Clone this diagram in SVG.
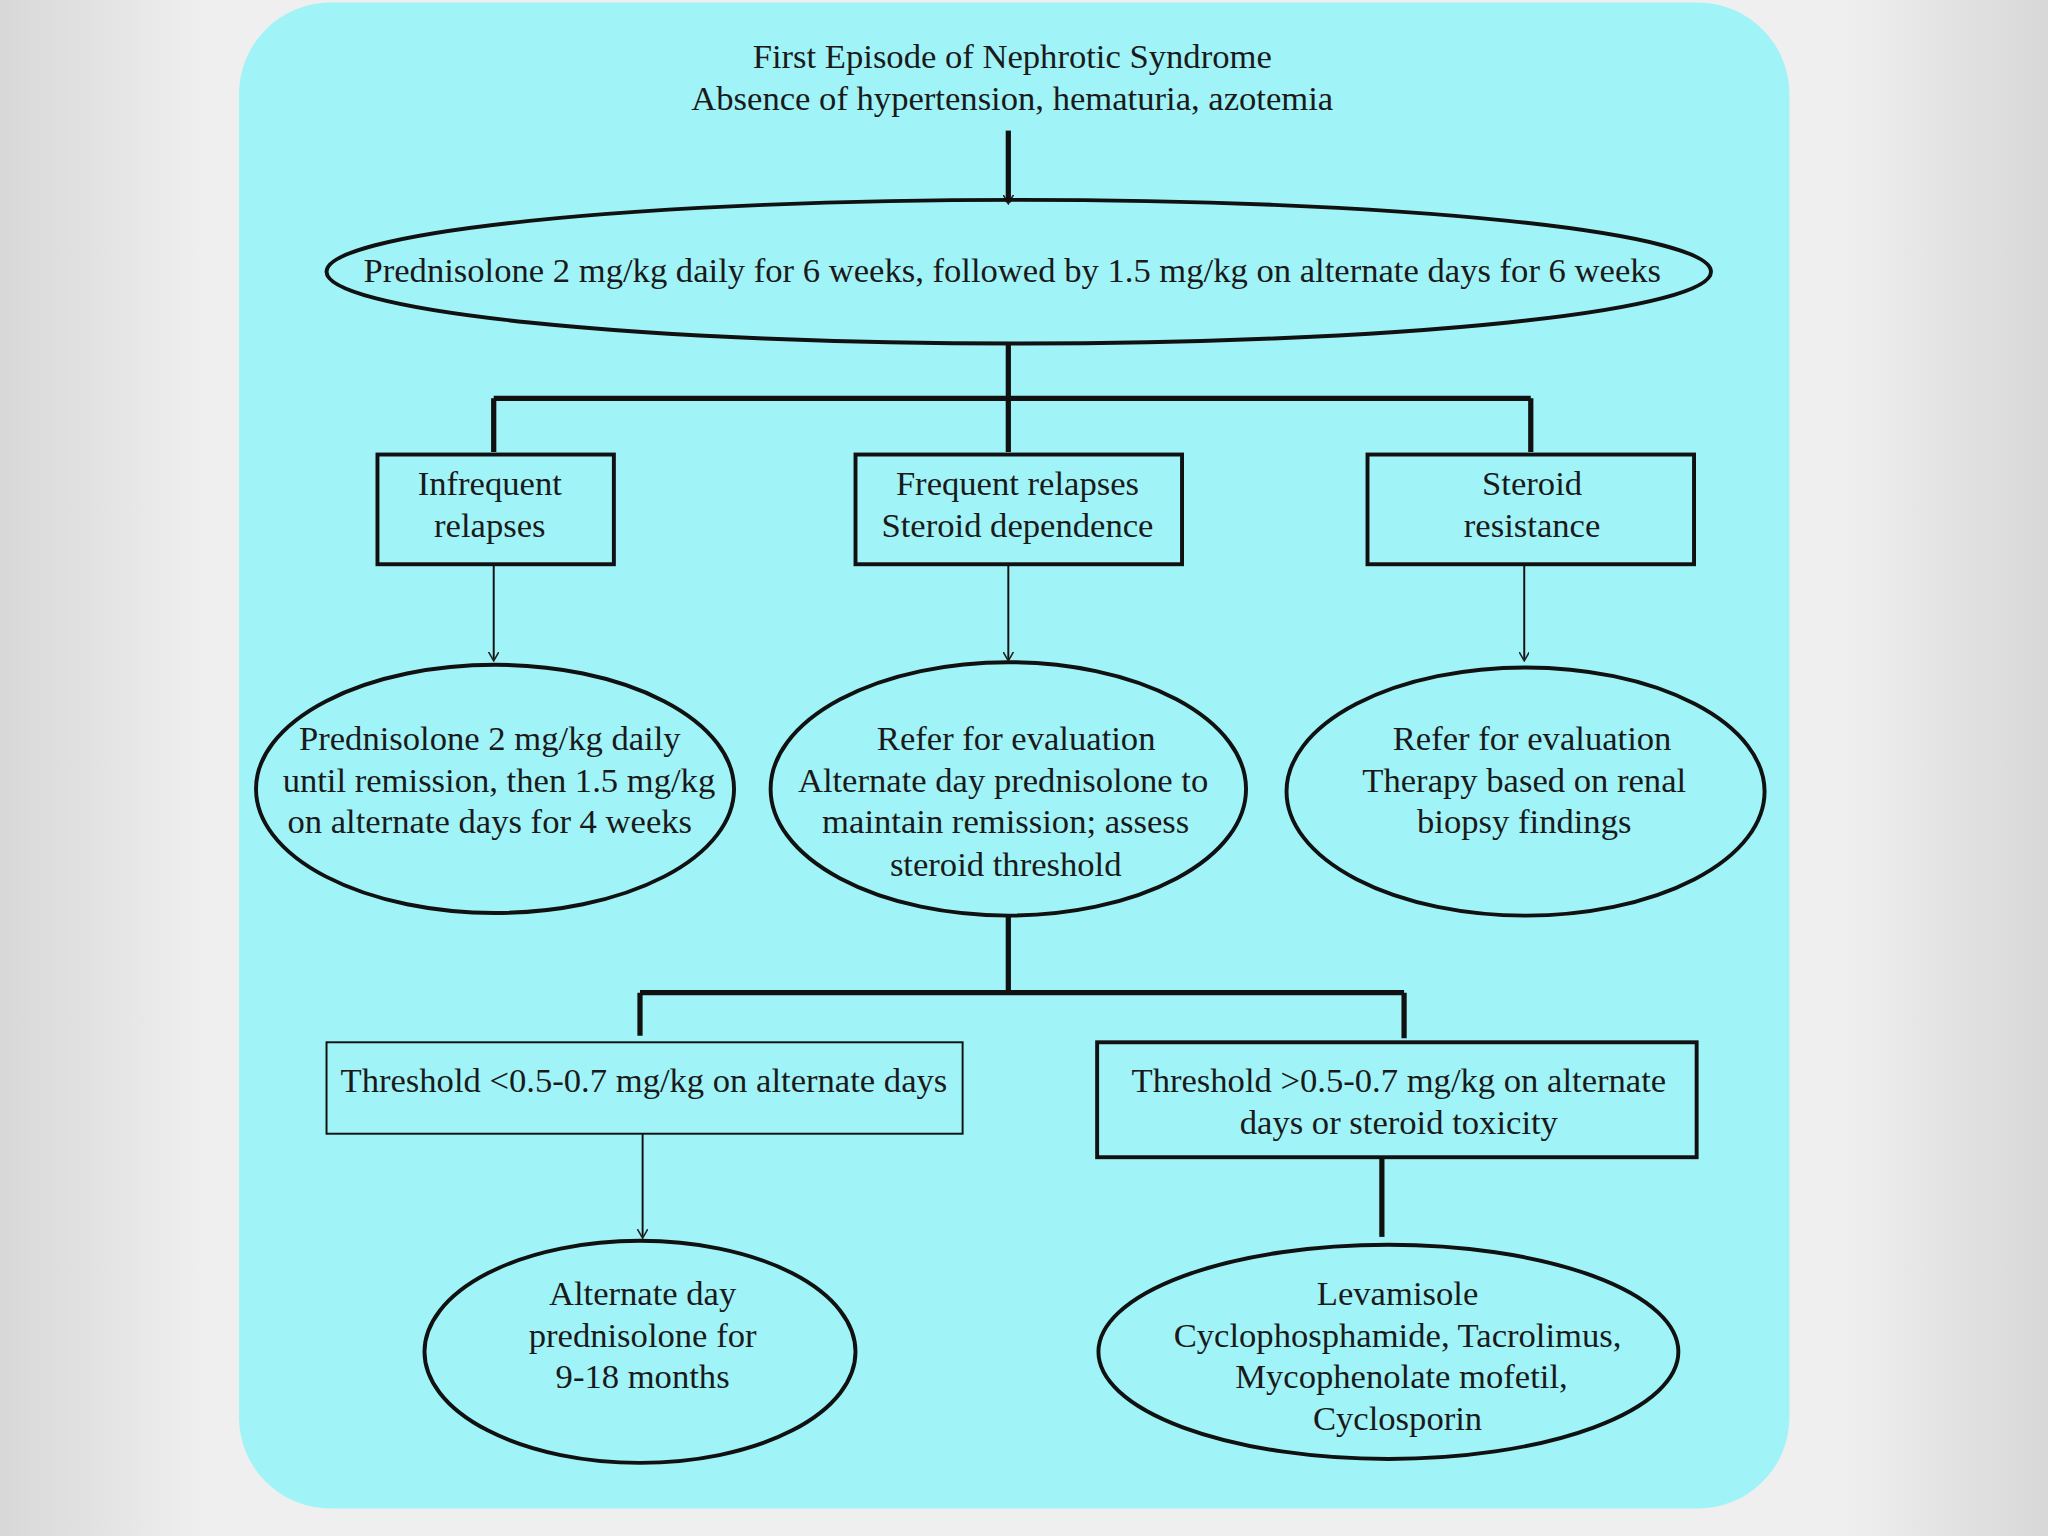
<svg xmlns="http://www.w3.org/2000/svg" width="2048" height="1536" viewBox="0 0 2048 1536">
<defs>
<linearGradient id="bg" x1="0" x2="1" y1="0" y2="0"><stop offset="0" stop-color="#d8d8d8"/><stop offset="0.1" stop-color="#efefef"/><stop offset="0.9" stop-color="#efefef"/><stop offset="1" stop-color="#d8d8d8"/></linearGradient>
<marker id="a" markerWidth="8" markerHeight="8" refX="6" refY="4" orient="auto" markerUnits="userSpaceOnUse"><path d="M0,0 L7,4 L0,8" fill="none" stroke="#222" stroke-width="1.2"/></marker>
</defs>
<style>
text{font-family:"Liberation Serif","Times New Roman",serif;font-size:26.5px;fill:#1a1a1a;text-anchor:middle}
.s{fill:none;stroke:#111;stroke-width:3}
.t{fill:none;stroke:#111;stroke-width:1.5}
.k{fill:none;stroke:#111;stroke-width:4}
</style>
<rect width="2048" height="1536" fill="url(#bg)"/>
<g transform="scale(1.30612)">
<rect x="183" y="2" width="1187" height="1153" rx="70" fill="#a0f4f8"/>
<g id="connectors">
<path class="k" d="M772,100V155" marker-end="url(#a)"/>
<path class="k" d="M772,263V305M378,305H1172M378,305V346M772,305V346M1172,305V346" />
<path class="t" d="M378,432V505" marker-end="url(#a)"/>
<path class="t" d="M772,432V505" marker-end="url(#a)"/>
<path class="t" d="M1167,432V505" marker-end="url(#a)"/>
<path class="k" d="M772,700V760M490,760H1075M490,760V793M1075,760V795"/>
<path class="t" d="M492,868V947" marker-end="url(#a)"/>
<path class="k" d="M1058,886V947"/>
</g>
<g id="n0"><text x="775" y="52">First Episode of Nephrotic Syndrome</text><text x="775" y="84">Absence of hypertension, hematuria, azotemia</text></g>
<g id="n1"><ellipse class="s" cx="780" cy="208" rx="530" ry="55"/><text x="775" y="216">Prednisolone 2 mg/kg daily for 6 weeks, followed by 1.5 mg/kg on alternate days for 6 weeks</text></g>
<g id="n2"><rect class="s" x="289" y="348" width="181" height="84"/><text x="375" y="379">Infrequent</text><text x="375" y="411">relapses</text></g>
<g id="n3"><rect class="s" x="655" y="348" width="250" height="84"/><text x="779" y="379">Frequent relapses</text><text x="779" y="411">Steroid dependence</text></g>
<g id="n4"><rect class="s" x="1047" y="348" width="250" height="84"/><text x="1173" y="379">Steroid</text><text x="1173" y="411">resistance</text></g>
<g id="n5"><ellipse class="s" cx="379" cy="604" rx="183" ry="95"/><text x="375" y="574">Prednisolone 2 mg/kg daily</text><text x="382" y="606">until remission, then 1.5 mg/kg</text><text x="375" y="638">on alternate days for 4 weeks</text></g>
<g id="n6"><ellipse class="s" cx="772" cy="604" rx="182" ry="97"/><text x="778" y="574">Refer for evaluation</text><text x="768" y="606">Alternate day prednisolone to</text><text x="770" y="638">maintain remission; assess</text><text x="770" y="671">steroid threshold</text></g>
<g id="n7"><ellipse class="s" cx="1168" cy="606" rx="183" ry="95"/><text x="1173" y="574">Refer for evaluation</text><text x="1167" y="606">Therapy based on renal</text><text x="1167" y="638">biopsy findings</text></g>
<g id="n8"><rect class="t" x="250" y="798" width="487" height="70"/><text x="493" y="836">Threshold &lt;0.5-0.7 mg/kg on alternate days</text></g>
<g id="n9"><rect class="s" x="840" y="798" width="459" height="88"/><text x="1071" y="836">Threshold &gt;0.5-0.7 mg/kg on alternate</text><text x="1071" y="868">days or steroid toxicity</text></g>
<g id="n10"><ellipse class="s" cx="490" cy="1035" rx="165" ry="85"/><text x="492" y="999">Alternate day</text><text x="492" y="1031">prednisolone for</text><text x="492" y="1063">9-18 months</text></g>
<g id="n11"><ellipse class="s" cx="1063" cy="1035" rx="222" ry="82"/><text x="1070" y="999">Levamisole</text><text x="1070" y="1031">Cyclophosphamide, Tacrolimus,</text><text x="1073" y="1063">Mycophenolate mofetil,</text><text x="1070" y="1095">Cyclosporin</text></g>
</g>
</svg>
